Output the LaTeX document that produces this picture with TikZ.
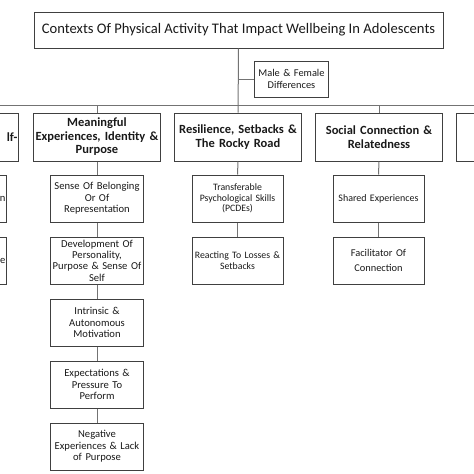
\documentclass[tikz,border=0pt]{standalone}
\usepackage{fontspec}
\setmainfont{Carlito}
\usepackage{tikz}
\usetikzlibrary{positioning}

\begin{document}
\begin{tikzpicture}
                [x=1pt, y=-1pt,
                 every node/.style = {text=black!90, inner sep=1pt, align=center},
                 root/.style = {draw=black!75, line width=1pt, minimum width=409pt, minimum height=36pt, font=\fontsize{14.6}{16}\selectfont},
                 sexbox/.style = {draw=black!75, line width=1pt, minimum width=73pt, minimum height=36pt, text width=72pt, font=\fontsize{10.4}{11.3}\selectfont},
                 theme/.style = {draw=black!75, line width=1pt, minimum width=126pt, minimum height=48pt, text width=125pt, font=\bfseries\fontsize{12.5}{13.5}\selectfont},
                 sub/.style = {draw=black!75, line width=1pt, minimum width=92pt, minimum height=47pt, text width=91pt, font=\fontsize{10.6}{11.4}\selectfont},
                 link/.style = {draw=black!55, line width=1pt}]
                \useasboundingbox (0,0) rectangle (474,474);
                \clip (0,0) rectangle (474,474);
                % Top of the tree
                \node[root] (top) at (238.5,30) {Contexts Of Physical Activity That Impact Wellbeing In Adolescents};
                \node[sexbox] (sex) at (291.5,79) {Male \& Female\\Differences};
                % Themes
                \node[theme, align=right] (self) at (-45,137) {lf-};
                \node[theme] (mean) at (97,137) {Meaningful\\Experiences, Identity \&\\Purpose};
                \node[theme] (res) at (238,137) {Resilience, Setbacks \&\\The Rocky Road};
                \node[theme] (soc) at (379,137) {Social Connection \&\\Relatedness};
                \node[theme] (last) at (520,137) {};
                % Sub-themes
                \node[sub, align=right] (s1) at (-40,198.5) {n};
                \node[sub, align=right] (s2) at (-40,260.5) {e};
                \node[sub] (m1) at (97,198.5) {Sense Of Belonging\\Or Of\\Representation};
                \node[sub] (m2) at (97,260.5) {Development Of\\Personality,\\Purpose \& Sense Of\\Self};
                \node[sub] (m3) at (97,322.5) {Intrinsic \&\\Autonomous\\Motivation};
                \node[sub] (m4) at (97,384.5) {Expectations \&\\Pressure To\\Perform};
                \node[sub] (m5) at (97,446.5) {Negative\\Experiences \& Lack\\of Purpose};
                \node[sub, minimum width=89pt, text width=89pt, font=\fontsize{9.8}{10.7}\selectfont] (r1) at (237.5,198.5) {Transferable\\Psychological Skills\\(PCDEs)};
                \node[sub, minimum width=89pt, text width=89pt, font=\fontsize{9.8}{10.7}\selectfont] (r2) at (237.5,260.5) {Reacting To Losses \&\\Setbacks};
                \node[sub, minimum width=89pt, text width=89pt, font=\fontsize{10}{11}\selectfont] (c1) at (378.5,198.5) {Shared Experiences};
                \node[sub, minimum width=89pt, text width=89pt, font=\fontsize{10.4}{15.7}\selectfont] (c2) at (378.5,260.5) {Facilitator Of\\Connection};
                % Lines
                \coordinate (busL) at (0,105);
                \coordinate (busR) at (474,105);
                \path[link] (busL) -- (busR);
                \path[link] (top) -- (res);
                \path[link] (sex.west) -- (sex.west -| top);
                \path[link] (mean.north) -- (mean.north |- busL);
                \path[link] (soc.north) -- (soc.north |- busL);
                \path[link] (mean) -- (m1);
                \path[link] (m1) -- (m2);
                \path[link] (m2) -- (m3);
                \path[link] (m3) -- (m4);
                \path[link] (m4) -- (m5);
                \path[link] (res) -- (r1);
                \path[link] (r1) -- (r2);
                \path[link] (soc) -- (c1);
                \path[link] (c1) -- (c2);
            \end{tikzpicture}
\end{document}
